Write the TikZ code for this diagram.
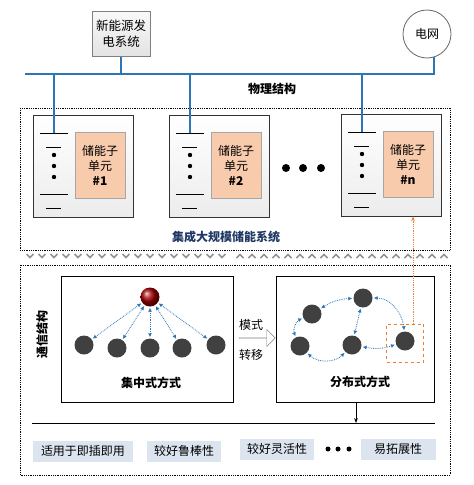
\documentclass[tikz,border=0pt]{standalone}
\usepackage{fontspec}
\setmainfont{Noto Sans CJK SC}
\usetikzlibrary{arrows.meta,shapes.arrows}

\definecolor{busblue}{RGB}{46,117,182}
\definecolor{cellorange}{RGB}{248,203,173}
\definecolor{tagblue}{RGB}{220,229,239}
\definecolor{titleblue}{RGB}{31,56,100}
\definecolor{traceorange}{RGB}{237,125,49}
\definecolor{nodegray}{RGB}{64,64,64}

\tikzset{
  bus/.style={draw=busblue, line width=1.4pt},
  dotbox/.style={densely dotted, thick},
  unitframe/.style={draw=black!80, thick, top color=white, bottom color=gray!15},
  cell/.style={draw=gray!70, fill=cellorange, minimum width=50pt, minimum height=66pt, align=center, font=\fontsize{12}{15}\selectfont},
  dev/.style={circle, fill=nodegray, minimum size=19pt, inner sep=0pt},
  link/.style={densely dotted, thick, draw=busblue, {Latex[length=4pt,width=4pt]}-{Latex[length=4pt,width=4pt]}, shorten <=1pt, shorten >=1pt},
  tag/.style={fill=tagblue, minimum height=21pt, inner sep=0pt, font=\fontsize{12}{14}\selectfont},
  title/.style={font=\fontsize{12}{14}\selectfont\bfseries}
}

\begin{document}
\begin{tikzpicture}[x=1pt,y=-1pt]
\useasboundingbox (0,0) rectangle (474,485);

% physical layer
\node[draw=gray, thick, top color=gray!5, bottom color=gray!22, minimum width=58pt, minimum height=45pt, align=center, font=\fontsize{12.5}{16}\selectfont] (src) at (121,34) {新能源发\\电系统};
\node[circle, draw=gray!80!black, thick, fill=white, minimum size=48pt, inner sep=0pt, font=\fontsize{12}{14}\selectfont] (grid) at (427,34) {电网};
\coordinate (busL) at (25,74);
\draw[bus, line width=2.2pt] (grid.-73) |- (busL);
\draw[bus] (src.south) -- (src.south |- busL);
\node[title] (phys) at (272,89) {物理结构};

\draw[dotbox] (20,108) rectangle (450,250);

% storage units
\node[unitframe, minimum width=100pt, minimum height=102pt] (u1) at (83,166) {};
\node[unitframe, minimum width=100pt, minimum height=102pt] (u2) at (219,166) {};
\node[unitframe, minimum width=100pt, minimum height=102pt] (un) at (391,165) {};
\node[cell] (c1) at (100,165) {储能子\\单元\\\textbf{\#1}};
\node[cell] (c2) at (236,165) {储能子\\单元\\\textbf{\#2}};
\node[cell] (cn) at (408,164) {储能子\\单元\\\textbf{\#n}};

\coordinate (bar1) at (54,133);
\coordinate (bar2) at (190,133);
\coordinate (barn) at (362,132);
\draw[bus] (bar1 |- busL) -- (bar1);
\draw[bus] (bar2 |- busL) -- (bar2);
\draw[bus] (barn |- busL) -- (barn);

\draw[thick] (40,133) -- (68,133) (46,147) -- (61,147) (40,194) -- (68,194) (46,208) -- (61,208);
\draw[thick] (176,133) -- (204,133) (182,147) -- (197,147) (176,194) -- (204,194) (182,208) -- (197,208);
\draw[thick] (348,132) -- (376,132) (354,146) -- (369,146) (348,193) -- (376,193) (354,207) -- (369,207);
\fill (54,155) circle (2.2pt) (54,166) circle (2.2pt) (54,177) circle (2.2pt);
\fill (190,155) circle (2.2pt) (190,166) circle (2.2pt) (190,177) circle (2.2pt);
\fill (362,154) circle (2.2pt) (362,165) circle (2.2pt) (362,176) circle (2.2pt);
\fill (286,168) circle (4pt) (303,168) circle (4pt) (321,168) circle (4pt);

\node[title, text=titleblue] (ess) at (226,237) {集成大规模储能系统};

% chevrons between layers
\foreach \x in {30,42,...,226}
  \draw[gray!85, line width=1.7pt] (\x-3.5,254) -- (\x,257.5) -- (\x+3.5,254);
\foreach \x in {240,252,...,444}
  \draw[gray!85, line width=1.7pt] (\x-3.5,258) -- (\x,254.5) -- (\x+3.5,258);

% communication layer
\draw[dotbox] (20,265) rectangle (450,475);
\node[title, rotate=90] (comm) at (42,334) {通信结构};

\node[draw, thick, minimum width=172pt, minimum height=126pt] (cbox) at (147,339) {};
\node[draw, thick, minimum width=158pt, minimum height=126pt] (dbox) at (355,339) {};

\node[circle, ball color=red!65!black, minimum size=19pt, inner sep=0pt] (hub) at (150,297) {};
\node[dev] (s1) at (84,345) {};
\node[dev] (s2) at (117,348) {};
\node[dev] (s3) at (150,348) {};
\node[dev] (s4) at (182,348) {};
\node[dev] (s5) at (216,345) {};
\draw[link] (hub) -- (s1);
\draw[link] (hub) -- (s2);
\draw[link] (hub) -- (s3);
\draw[link] (hub) -- (s4);
\draw[link] (hub) -- (s5);
\node[title] (cname) at (151,383) {集中式方式};

\node[single arrow, draw=gray, fill=white, minimum height=36pt, minimum width=17pt, single arrow head extend=3pt, inner sep=0pt] (shift) at (257,338) {};
\node[font=\fontsize{12}{14}\selectfont] (mode) at (251,325) {模式};
\node[font=\fontsize{12}{14}\selectfont] (move) at (251,355) {转移};

\node[dev] (da) at (312,314) {};
\node[dev] (db) at (363,298) {};
\node[dev] (dc) at (300,346) {};
\node[dev] (dd) at (352,345) {};
\node[dev] (de) at (405,341) {};
\draw[link] (da) to[bend left=15] (db);
\draw[link] (da) to[bend right=45] (dc);
\draw[link] (dc) to[bend right=45] (dd);
\draw[link] (db) -- (dd);
\draw[link] (db) to[out=0,in=95] (de);
\draw[link] (de) to[out=200,in=-10] (dd);
\node[title] (dname) at (360,382) {分布式方式};

\node[draw=traceorange, thick, dashed, minimum width=37pt, minimum height=38pt] (sel) at (405,343) {};
\coordinate (tp) at (413,324);
\draw[traceorange, densely dotted, thick, -{Stealth[length=5pt]}] (tp) -- (tp |- un.south);

\coordinate (base) at (356,423);
\draw[thick, -{Stealth[length=5pt]}] (dbox.south -| base) -- (base);
\draw[thick] (32,423) -- (435,423);

\node[tag, minimum width=100pt] (t1) at (83,451) {适用于即插即用};
\node[tag, minimum width=74pt] (t2) at (184,451) {较好鲁棒性};
\node[tag, minimum width=74pt] (t3) at (277,449) {较好灵活性};
\node[tag, minimum width=75pt] (t4) at (398,449) {易拓展性};
\fill (328,449) circle (2.5pt) (338,449) circle (2.5pt) (349,449) circle (2.5pt);
\end{tikzpicture}
\end{document}
